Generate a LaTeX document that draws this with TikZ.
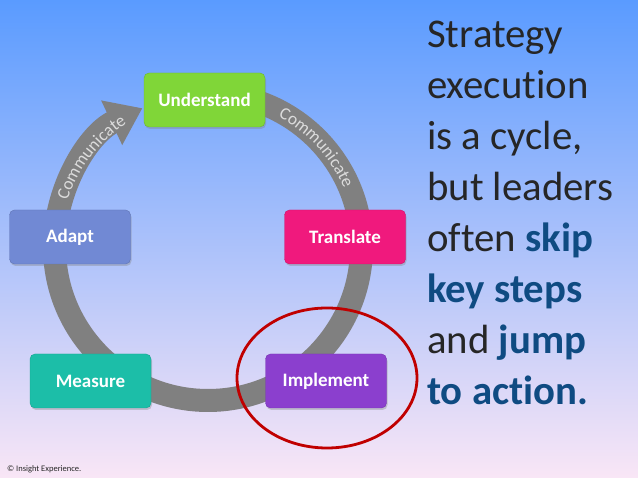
\documentclass[tikz,border=0pt]{standalone}
\usepackage{fontspec}
\setmainfont{Carlito}[Ligatures=NoCommon]
\usepackage{xcolor}
\usetikzlibrary{arrows.meta,shadows,decorations.text}
\definecolor{bgtop}{RGB}{90,155,255}
\definecolor{bgmid}{RGB}{146,193,246}
\definecolor{bgbot}{RGB}{249,230,246}
\definecolor{ring}{RGB}{128,128,128}
\definecolor{ringtext}{RGB}{220,220,220}
\definecolor{cgreen}{RGB}{128,214,56}
\definecolor{cpink}{RGB}{240,25,125}
\definecolor{cpurple}{RGB}{139,63,206}
\definecolor{cteal}{RGB}{28,190,168}
\definecolor{cslate}{RGB}{113,137,212}
\definecolor{darktext}{RGB}{38,38,38}
\definecolor{bluetext}{RGB}{15,75,130}
\definecolor{circled}{RGB}{192,0,0}

\begin{document}
\begin{tikzpicture}[
    x=1pt, y=1pt,
    cyclebox/.style={rounded corners=5pt, minimum width=121pt, minimum height=54pt, inner sep=0pt,
        text=white, font=\bfseries\fontsize{19}{19}\selectfont,
        drop shadow={opacity=0.35, shadow xshift=1pt, shadow yshift=-2pt}},
    ringlabel/.style={decoration={text along path, text align=center, text color=ringtext,
        text={|\fontsize{17.5}{17.5}\selectfont|Communicate}}, decorate}
]
    \shade[top color=bgtop, middle color=bgmid, bottom color=bgbot] (0,0) rectangle (638,478);
    \useasboundingbox (0,0) rectangle (638,478);

    \coordinate (centre) at (208,231);
    \draw[ring, line width=23pt, -{Triangle[width=47pt,length=34pt]}]
        (centre) ++(90:153.5) arc[start angle=90, end angle=-244.7, radius=153.5];
    \path[ringlabel] (centre) ++(180:148) arc[start angle=180, end angle=105, radius=148];
    \path[ringlabel] (centre) ++(80:148) arc[start angle=80, end angle=5, radius=148];

    \node[cyclebox, fill=cgreen, draw=cgreen!85!black] (understand) at (204.5,378) {Understand};
    \node[cyclebox, fill=cpink, draw=cpink!85!black] (translate) at (345,241) {Translate};
    \node[cyclebox, fill=cpurple, draw=cpurple!85!black] (implement) at (326,97) {Implement};
    \node[cyclebox, fill=cteal, draw=cteal!85!black] (measure) at (90.5,97) {Measure};
    \node[cyclebox, fill=cslate, draw=cslate!85!black] (adapt) at (70,241) {Adapt};

    \draw[circled, line width=2.8pt] (implement.center) ++(1,3) ellipse[x radius=90, y radius=70];

    \node[anchor=base west, inner sep=0pt, align=left, text=darktext,
        font=\fontsize{40.8}{51}\selectfont] (message) at (427,73)
        {Strategy\\execution\\is a cycle,\\but leaders\\often \textcolor{bluetext}{\textbf{skip}}\\
         \textcolor{bluetext}{\textbf{key steps}}\\and \textcolor{bluetext}{\textbf{jump}}\\
         \textcolor{bluetext}{\textbf{to action.}}};

    \node[anchor=base west, inner sep=0pt, text=darktext, font=\fontsize{8.5}{8.5}\selectfont]
        (copyright) at (7,6.5) {© Insight Experience.};
\end{tikzpicture}
\end{document}
